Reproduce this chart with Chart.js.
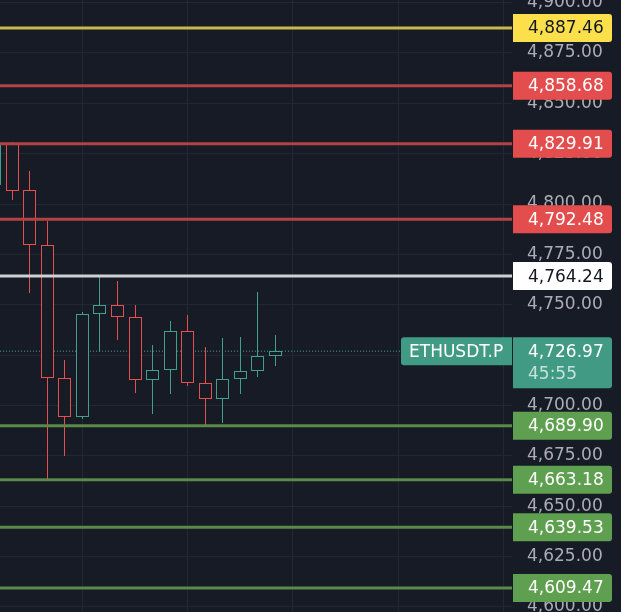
<!DOCTYPE html>
<html>
<head>
<meta charset="utf-8">
<title>ETHUSDT.P</title>
<script src="https://cdn.jsdelivr.net/npm/chart.js@4.4.1/dist/chart.umd.min.js"></script>
<style>
html, body { margin: 0; padding: 0; background: #171b26; }
canvas { display: block; }
</style>
</head>
<body>
<canvas id="chart_eth" width="621" height="612"></canvas>
<script>
// candles, oldest first (the first one is cut by the left edge)
var opens  = [4809.5, 4830.1, 4806.9, 4779.6, 4713.6, 4694.2, 4745.3, 4749.8, 4743.9, 4712.6, 4717.5, 4736.9, 4711.1, 4703.2, 4713.1, 4717.1, 4724.5];
var highs  = [4831.0, 4830.6, 4816.5, 4791.8, 4722.7, 4746.3, 4764.9, 4761.9, 4750.0, 4730.1, 4742.0, 4745.0, 4729.1, 4733.6, 4734.1, 4756.4, 4735.1];
var lows   = [4808.0, 4802.2, 4756.1, 4662.6, 4674.7, 4693.5, 4726.8, 4732.7, 4706.4, 4696.0, 4705.9, 4709.9, 4689.3, 4691.5, 4705.9, 4714.4, 4719.8];
var closes = [4830.2, 4806.7, 4779.6, 4713.6, 4694.2, 4745.3, 4749.8, 4743.9, 4712.6, 4717.5, 4736.9, 4711.1, 4703.2, 4713.1, 4717.1, 4724.5, 4726.97];

// horizontal price levels
var levelValues = [4887.46, 4858.68, 4829.91, 4792.48, 4764.24, 4689.90, 4663.18, 4639.53, 4609.47];
var levelKinds  = ["yellow", "red", "red", "red", "white", "green", "green", "green", "green"];

var symbolName = "ETHUSDT.P";
var lastPrice = 4726.97;
var countdown = "45:55";

var yMin = 4597.5, yMax = 4901.3;
var xMin = 1.297, xMax = 30.5;

var bgColor = "#171b26";
var gridColor = "#232733";
var upColor = "#40a088";
var downColor = "#e5504d";
var tealColor = "#419a83";
var fontFamily = '"DejaVu Sans", sans-serif';

var kindStyle = {
    yellow: { line: "#c9b84b", box: "#fbe04c", text: "#131722" },
    red:    { line: "#b34343", box: "#e34d4d", text: "#ffffff" },
    white:  { line: "#cfd0d4", box: "#ffffff", text: "#131722" },
    green:  { line: "#598a48", box: "#5e9f50", text: "#ffffff" }
};

function fmtPrice(v) {
    return v.toLocaleString("en-US", { minimumFractionDigits: 2, maximumFractionDigits: 2 });
}

let candleColors = opens.map(function (o, i) { return closes[i] >= o ? upColor : downColor; });

let wickData = [];
let bodyData = [];
for (let i = 0; i < opens.length; i++) {
    wickData.push({ x: i + 1, y: [lows[i], highs[i]] });
    bodyData.push({ x: i + 1, y: [opens[i], closes[i]] });
}

let datasets = [];

// solid level lines on top of everything
for (let i = 0; i < levelValues.length; i++) {
    datasets.push({
        type: "line",
        data: [{ x: xMin, y: levelValues[i] }, { x: xMax, y: levelValues[i] }],
        borderColor: kindStyle[levelKinds[i]].line,
        borderWidth: 3,
        pointRadius: 0,
        order: 0
    });
}

datasets.push({
    type: "bar",
    data: bodyData,
    backgroundColor: bgColor,
    borderColor: candleColors,
    borderWidth: 1,
    borderSkipped: false,
    barThickness: 13,
    inflateAmount: 0,
    grouped: false,
    order: 1
});

datasets.push({
    type: "bar",
    data: wickData,
    backgroundColor: candleColors,
    borderWidth: 0,
    barThickness: 1,
    inflateAmount: 0,
    grouped: false,
    order: 2
});

// last price dotted line, behind the candles
datasets.push({
    type: "line",
    data: [{ x: xMin, y: lastPrice }, { x: xMax, y: lastPrice }],
    borderColor: "#4a9d8c",
    borderWidth: 1,
    borderDash: [1, 2],
    pointRadius: 0,
    order: 3
});

// snap candle bars to whole pixels so the 1px outlines stay sharp
var pixelSnap = {
    id: "pixelSnap",
    afterDatasetsUpdate: function (chart) {
        chart.getSortedVisibleDatasetMetas().forEach(function (meta) {
            if (meta.type !== "bar") return;
            meta.data.forEach(function (el) {
                el.x = Math.floor(el.x) + 0.5;
                el.y = Math.round(el.y);
                el.base = Math.round(el.base);
            });
        });
    }
};

var priceLabels = {
    id: "priceLabels",
    afterDraw: function (chart) {
        let ctx = chart.ctx;
        let yScale = chart.scales.y;
        let left = chart.chartArea.right + 1;
        ctx.save();
        ctx.font = "17px " + fontFamily;
        ctx.textBaseline = "middle";
        ctx.textAlign = "left";
        for (let i = 0; i < levelValues.length; i++) {
            let st = kindStyle[levelKinds[i]];
            let y = yScale.getPixelForValue(levelValues[i]);
            ctx.fillStyle = st.box;
            ctx.beginPath();
            ctx.roundRect(left, y - 14, 99, 28, [0, 3, 3, 0]);
            ctx.fill();
            ctx.fillStyle = st.text;
            ctx.fillText(fmtPrice(levelValues[i]), left + 15, y + 1);
        }

        let yp = yScale.getPixelForValue(lastPrice);
        ctx.fillStyle = tealColor;
        ctx.beginPath();
        ctx.roundRect(left, yp - 14, 99, 51, [0, 3, 3, 0]);
        ctx.fill();
        ctx.beginPath();
        ctx.roundRect(left - 112, yp - 14, 111, 28, [3, 0, 0, 3]);
        ctx.fill();

        ctx.fillStyle = "#ffffff";
        ctx.fillText(fmtPrice(lastPrice), left + 15, yp + 1);
        ctx.fillText(symbolName, left - 104, yp + 1);
        ctx.fillStyle = "rgba(255,255,255,0.7)";
        ctx.fillText(countdown, left + 15, yp + 23);
        ctx.restore();
    }
};

let chart = new Chart(document.getElementById("chart_eth").getContext("2d"), {
    type: "bar",
    data: { datasets: datasets },
    plugins: [pixelSnap, priceLabels],
    options: {
        responsive: false,
        animation: false,
        devicePixelRatio: 1,
        layout: { padding: 0 },
        plugins: {
            legend: { display: false },
            tooltip: { enabled: false }
        },
        scales: {
            x: {
                type: "linear",
                min: xMin,
                max: xMax,
                offset: false,
                ticks: { display: false, stepSize: 6, includeBounds: false },
                grid: { color: gridColor, drawTicks: false, offset: false },
                border: { display: false },
                afterFit: function (s) {
                    s.height = 0;
                    s.paddingLeft = 0;
                    s.paddingRight = 0;
                }
            },
            y: {
                position: "right",
                min: yMin,
                max: yMax,
                ticks: {
                    stepSize: 25,
                    includeBounds: false,
                    padding: 15,
                    color: "#aaadb6",
                    font: { family: fontFamily, size: 17 },
                    callback: function (v) { return fmtPrice(v); }
                },
                grid: { color: gridColor, drawTicks: false },
                border: { display: false },
                afterFit: function (s) {
                    // price scale is a fixed strip and the plot runs to the canvas edges
                    s.width = 109;
                    s.paddingTop = 0;
                    s.paddingBottom = 0;
                }
            }
        }
    }
});
</script>
</body>
</html>
